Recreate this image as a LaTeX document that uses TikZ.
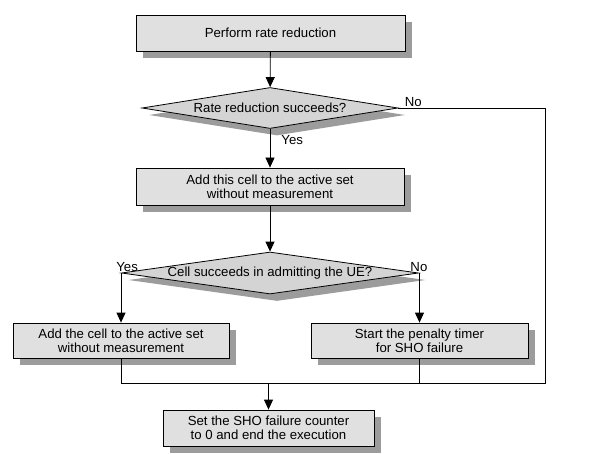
\documentclass[tikz,border=0pt]{standalone}
\usepackage{fontspec}
\setmainfont{Liberation Sans}
\usetikzlibrary{shapes.geometric,arrows.meta,shadows}
\definecolor{boxgray}{HTML}{E0E0E0}
\definecolor{diagray}{HTML}{D4D4D4}
\definecolor{shadegray}{HTML}{9C9C9C}
\begin{document}
\begin{tikzpicture}[x=1pt,y=-1pt,line width=0.8pt,font=\fontsize{13.2}{14}\selectfont,
  act/.style={draw,fill=boxgray,inner sep=0pt,align=center,
    drop shadow={shadow xshift=7pt,shadow yshift=-7pt,fill=shadegray,opacity=1}},
  ask/.style={diamond,aspect=7,draw,fill=diagray,inner sep=0pt,
    drop shadow={shadow xshift=7pt,shadow yshift=-7pt,fill=shadegray,opacity=1}},
  arr/.style={-{Triangle[length=10pt,width=9pt]}},
  lab/.style={inner sep=1pt}]
\useasboundingbox (0,0) rectangle (596,454);
% boxes and questions
\node[act,minimum width=269,minimum height=36] (perform) at (270.5,33) {Perform rate reduction};
\node[ask,minimum width=256,minimum height=41] (q1) at (270,108) {Rate reduction succeeds?};
\node[act,minimum width=268,minimum height=37] (addthis) at (270,186.5) {Add this cell to the active set\\without measurement};
\node[ask,minimum width=297,minimum height=42] (q2) at (270,273) {Cell succeeds in admitting the UE?};
\node[act,minimum width=216,minimum height=35] (addcell) at (121,340.5) {Add the cell to the active set\\without measurement};
\node[act,minimum width=217,minimum height=35] (timer) at (419.5,340.5) {Start the penalty timer\\for SHO failure};
\node[act,minimum width=211,minimum height=36] (finish) at (268.5,428) {Set the SHO failure counter\\to 0 and end the execution};
\coordinate (join) at (268.5,383);
\coordinate (noturn) at (545,383);
% connectors
\draw[arr] (perform) -- (q1);
\draw[arr] (q1) -- node[lab,pos=0.3,right=10pt]{Yes} (addthis);
\draw[arr] (addthis) -- (q2);
\draw[arr] (q2.west) -| (addcell);
\draw[arr] (q2.east) -| (timer);
\draw (q1.east) node[lab,above right,xshift=5pt]{No} -| (noturn) -- (join);
\draw (q2.west) node[lab,above,xshift=6pt]{Yes};
\draw (q2.east) node[lab,above]{No};
\draw (addcell) |- (join);
\draw (timer) |- (join);
\draw[arr] (join) -- (finish);
\end{tikzpicture}
\end{document}
